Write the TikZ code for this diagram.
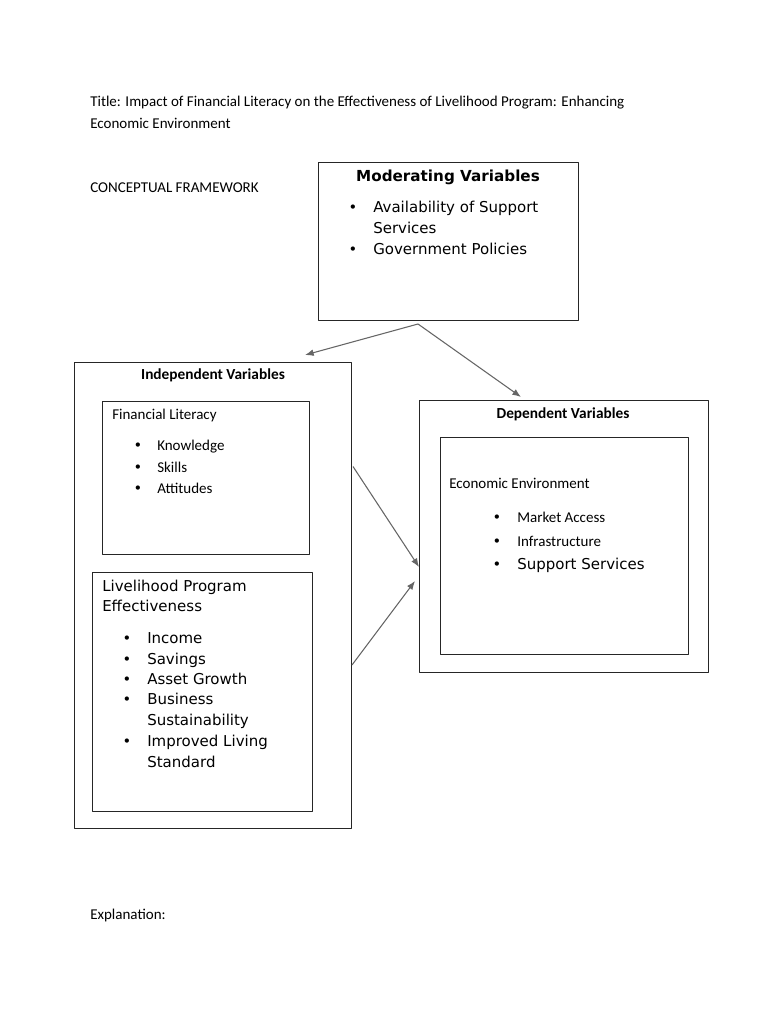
\documentclass[tikz,border=0pt]{standalone}
\usepackage{fontspec}
\setmainfont{Carlito}
\newfontfamily\dejavu{DejaVu Sans}
\usetikzlibrary{arrows.meta}
\tikzset{
	txt/.style={inner sep=0pt,anchor=base west},
	dj/.style={txt,font=\dejavu\fontsize{11.25}{13}\selectfont},
	bul/.style={inner sep=0pt,anchor=base,font=\dejavu\fontsize{11}{13}\selectfont},
	frame/.style={draw=black!85,line width=0.75pt},
	link/.style={draw=black!60,line width=0.8pt,->}
}
\begin{document}
\begin{tikzpicture}[x=0.75pt,y=-0.75pt,>={Latex[length=6.5pt,width=5pt]},line join=round,font=\fontsize{11.25}{13}\selectfont]
			\useasboundingbox[fill=white] (0,0) rectangle (768,1024);
			\path 
			(318,162) coordinate (modNW) (578,320) coordinate (modSE)
			(74,362) coordinate (ivNW) (351,828) coordinate (ivSE)
			(102,401) coordinate (flNW) (309,554) coordinate (flSE)
			(92,572) coordinate (lpNW) (312,811) coordinate (lpSE)
			(419,400) coordinate (dvNW) (708,672) coordinate (dvSE)
			(440,437) coordinate (eeNW) (688,654) coordinate (eeSE)
			;
			% page text
			\node[txt] (title1) at (90,107) {Title: Impact of Financial Literacy on the Effectiveness of Livelihood Program: Enhancing};
			\node[txt] (title2) at (90,128) {Economic Environment};
			\node[txt] (cf) at (90,192) {CONCEPTUAL FRAMEWORK};
			\node[txt] (expl) at (90,919) {Explanation:};
			% boxes
			\foreach \a in {mod,iv,fl,lp,dv,ee}
			\draw[frame] (\a NW) rectangle (\a SE);
			% moderating
			\node[bul,font=\dejavu\bfseries\fontsize{11.4}{13}\selectfont] (modT) at (448,181.5) {Moderating Variables};
			\node[dj] (mod1) at (373,212.5) {Availability of Support};
			\node[dj] (mod2) at (373,233) {Services};
			\node[dj] (mod3) at (373,254) {Government Policies};
			\node[bul] (modb1) at (353,212.5) {•};
			\node[bul] (modb3) at (353,254) {•};
			% independent
			\node[bul,font=\bfseries\fontsize{11.5}{13}\selectfont] (ivT) at (213,379) {Independent Variables};
			\node[txt] (flT) at (112,419) {Financial Literacy};
			\foreach \t/\y [count=\i] in {Knowledge/450,Skills/472,Attitudes/493}{
				\node[txt] (fl\i) at (157,\y) {\t};
				\node[bul] (flb\i) at (138,\y) {•};
			}
			\node[dj] (lpT1) at (102,591.5) {Livelihood Program};
			\node[dj] (lpT2) at (102,611.5) {Effectiveness};
			\foreach \t/\y/\b [count=\i] in {Income/643/1,Savings/664/1,Asset Growth/684/1,Business/704/1,Sustainability/725.5/0,Improved Living/746.5/1,Standard/767/0}{
				\node[dj] (lp\i) at (147,\y) {\t};
				\ifnum\b=1 \node[bul] (lpb\i) at (127,\y) {•};\fi
			}
			% dependent
			\node[bul,font=\bfseries\fontsize{11.5}{13}\selectfont] (dvT) at (563,418) {Dependent Variables};
			\node[txt] (eeT) at (449,488) {Economic Environment};
			\node[txt] (ee1) at (517,522) {Market Access};
			\node[txt] (ee2) at (517,546) {Infrastructure};
			\node[dj] (ee3) at (517,569) {Support Services};
			\foreach \y [count=\i] in {522,546,569}
			\node[bul] (eeb\i) at (497,\y) {•};
			% connectors
			\path
			(418,324) coordinate (fork)
			(305,355) coordinate (ivIn)
			(521,397) coordinate (dvIn)
			(353,466.5) coordinate (flOut)
			(419,567) coordinate (dvA)
			(352,665) coordinate (lpOut)
			(415,581) coordinate (dvB)
			;
			\draw[link] (fork)--(ivIn);
			\draw[link] (fork)--(dvIn);
			\draw[link] (flOut)--(dvA);
			\draw[link] (lpOut)--(dvB);
	\end{tikzpicture}
\end{document}
